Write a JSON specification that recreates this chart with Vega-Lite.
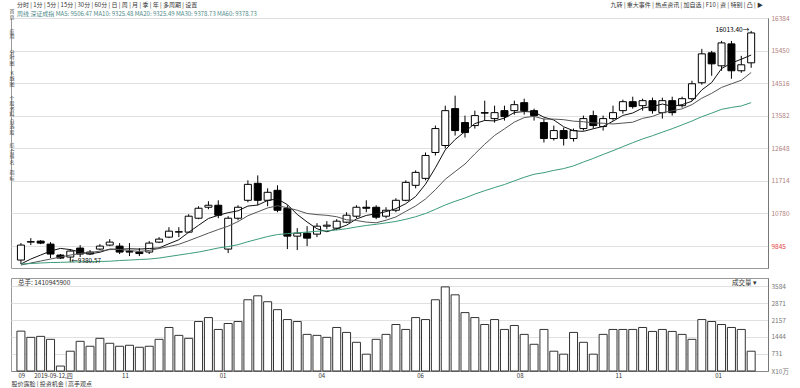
{
  "$schema": "https://vega.github.io/schema/vega-lite/v6.json",
  "padding": {"left": 8, "top": 1, "right": 0, "bottom": 0},
  "background": "white",
  "config": {"font": "Noto Sans CJK SC", "view": {"stroke": "#9a9a9a"}, "concat": {"spacing": 8}},
  "datasets": {
    "k": [
      {"i":0,"o":9445,"h":9931,"l":9331,"c":9874,"v":1691,"m5":9331,"m10":9302,"m30":9331},
      {"i":1,"o":9959,"h":10073,"l":9874,"c":9973,"v":1427,"m5":9474,"m10":9360,"m30":9345},
      {"i":2,"o":9988,"h":10016,"l":9902,"c":9931,"v":1469,"m5":9588,"m10":9417,"m30":9360},
      {"i":3,"o":9902,"h":9959,"l":9502,"c":9617,"v":1343,"m5":9702,"m10":9474,"m30":9374},
      {"i":4,"o":9588,"h":9617,"l":9474,"c":9502,"v":210,"m5":9779,"m10":9531,"m30":9379},
      {"i":5,"o":9531,"h":9759,"l":9380.57,"c":9702,"v":839,"m5":9745,"m10":9588,"m30":9388},
      {"i":6,"o":9788,"h":9874,"l":9531,"c":9617,"v":1259,"m5":9674,"m10":9631,"m30":9394},
      {"i":7,"o":9617,"h":9731,"l":9588,"c":9674,"v":1049,"m5":9622,"m10":9659,"m30":9399},
      {"i":8,"o":9759,"h":9902,"l":9731,"c":9845,"v":1385,"m5":9668,"m10":9702,"m30":9405},
      {"i":9,"o":9874,"h":10045,"l":9845,"c":9959,"v":1175,"m5":9759,"m10":9745,"m30":9411},
      {"i":10,"o":9845,"h":9931,"l":9617,"c":9674,"v":1049,"m5":9754,"m10":9748,"m30":9431},
      {"i":11,"o":9674,"h":9931,"l":9559,"c":9688,"v":1091,"m5":9768,"m10":9719,"m30":9445},
      {"i":12,"o":9674,"h":9788,"l":9559,"c":9631,"v":1007,"m5":9759,"m10":9691,"m30":9460},
      {"i":13,"o":9674,"h":9988,"l":9617,"c":9931,"v":1049,"m5":9776,"m10":9722,"m30":9474},
      {"i":14,"o":9959,"h":10102,"l":9931,"c":10045,"v":1343,"m5":9793,"m10":9776,"m30":9502},
      {"i":15,"o":10102,"h":10387,"l":10073,"c":10273,"v":1846,"m5":9913,"m10":9833,"m30":9545},
      {"i":16,"o":10245,"h":10387,"l":10102,"c":10259,"v":1511,"m5":10027,"m10":9896,"m30":9588},
      {"i":17,"o":10245,"h":10759,"l":10216,"c":10702,"v":1385,"m5":10242,"m10":9999,"m30":9631},
      {"i":18,"o":10644,"h":10987,"l":10616,"c":10930,"v":2098,"m5":10441,"m10":10107,"m30":9674},
      {"i":19,"o":10959,"h":11130,"l":10901,"c":11016,"v":2266,"m5":10636,"m10":10216,"m30":9731},
      {"i":20,"o":11016,"h":11158,"l":10644,"c":10730,"v":1762,"m5":10727,"m10":10319,"m30":9791},
      {"i":21,"o":9759,"h":10702,"l":9645,"c":10644,"v":2014,"m5":10804,"m10":10416,"m30":9831},
      {"i":22,"o":10644,"h":11016,"l":10587,"c":10959,"v":2098,"m5":10856,"m10":10547,"m30":9885},
      {"i":23,"o":11158,"h":11730,"l":11101,"c":11615,"v":3021,"m5":10993,"m10":10716,"m30":9970},
      {"i":24,"o":11644,"h":11872,"l":11016,"c":11158,"v":3189,"m5":11021,"m10":10827,"m30":10045},
      {"i":25,"o":11158,"h":11501,"l":10987,"c":11387,"v":2937,"m5":11153,"m10":10938,"m30":10119},
      {"i":26,"o":11444,"h":11587,"l":10816,"c":10873,"v":2602,"m5":11198,"m10":11001,"m30":10176},
      {"i":27,"o":10930,"h":11016,"l":9759,"c":10130,"v":2182,"m5":11033,"m10":10944,"m30":10202},
      {"i":28,"o":10130,"h":10359,"l":9731,"c":10216,"v":2098,"m5":10753,"m10":10873,"m30":10227},
      {"i":29,"o":10216,"h":10416,"l":9845,"c":10073,"v":1553,"m5":10536,"m10":10779,"m30":10247},
      {"i":30,"o":10188,"h":10502,"l":10102,"c":10416,"v":1511,"m5":10342,"m10":10747,"m30":10270},
      {"i":31,"o":10416,"h":10559,"l":10330,"c":10445,"v":1427,"m5":10256,"m10":10727,"m30":10287},
      {"i":32,"o":10359,"h":10616,"l":10302,"c":10559,"v":1846,"m5":10342,"m10":10687,"m30":10307},
      {"i":33,"o":10530,"h":10816,"l":10502,"c":10730,"v":1636,"m5":10445,"m10":10599,"m30":10344},
      {"i":34,"o":10702,"h":11016,"l":10644,"c":10959,"v":1217,"m5":10622,"m10":10579,"m30":10393},
      {"i":35,"o":10959,"h":11158,"l":10816,"c":10930,"v":713,"m5":10724,"m10":10533,"m30":10436},
      {"i":36,"o":10959,"h":11016,"l":10616,"c":10673,"v":1343,"m5":10770,"m10":10513,"m30":10470},
      {"i":37,"o":10702,"h":10959,"l":10644,"c":10873,"v":1553,"m5":10833,"m10":10587,"m30":10510},
      {"i":38,"o":10873,"h":11216,"l":10816,"c":11158,"v":1972,"m5":10918,"m10":10681,"m30":10553},
      {"i":39,"o":11158,"h":11730,"l":11130,"c":11672,"v":1762,"m5":11061,"m10":10841,"m30":10613},
      {"i":40,"o":11587,"h":12015,"l":11501,"c":11958,"v":2266,"m5":11267,"m10":10996,"m30":10687},
      {"i":41,"o":11787,"h":12529,"l":11730,"c":12443,"v":2182,"m5":11621,"m10":11196,"m30":10779},
      {"i":42,"o":12529,"h":13300,"l":12443,"c":13214,"v":3021,"m5":12089,"m10":11461,"m30":10898},
      {"i":43,"o":12729,"h":13871,"l":12643,"c":13728,"v":3567,"m5":12603,"m10":11761,"m30":11024},
      {"i":44,"o":13786,"h":14157,"l":13015,"c":13157,"v":3231,"m5":12900,"m10":11981,"m30":11130},
      {"i":45,"o":13386,"h":13586,"l":12957,"c":13100,"v":2476,"m5":13128,"m10":12198,"m30":11224},
      {"i":46,"o":13300,"h":13728,"l":13214,"c":13586,"v":2266,"m5":13357,"m10":12489,"m30":11336},
      {"i":47,"o":13671,"h":14014,"l":13443,"c":13657,"v":1972,"m5":13446,"m10":12766,"m30":11433},
      {"i":48,"o":13500,"h":13871,"l":13386,"c":13671,"v":2182,"m5":13434,"m10":13017,"m30":11524},
      {"i":49,"o":13728,"h":13871,"l":13443,"c":13557,"v":1762,"m5":13514,"m10":13206,"m30":11610},
      {"i":50,"o":13728,"h":14014,"l":13614,"c":13900,"v":1930,"m5":13674,"m10":13400,"m30":11715},
      {"i":51,"o":13957,"h":14071,"l":13614,"c":13728,"v":1553,"m5":13703,"m10":13529,"m30":11818},
      {"i":52,"o":13728,"h":13786,"l":13443,"c":13586,"v":1133,"m5":13688,"m10":13566,"m30":11904},
      {"i":53,"o":13386,"h":13500,"l":12815,"c":12929,"v":1762,"m5":13540,"m10":13486,"m30":11950},
      {"i":54,"o":12929,"h":13300,"l":12872,"c":13157,"v":839,"m5":13460,"m10":13486,"m30":12015},
      {"i":55,"o":13157,"h":13243,"l":12729,"c":12929,"v":713,"m5":13266,"m10":13469,"m30":12067},
      {"i":56,"o":12929,"h":13214,"l":12843,"c":13157,"v":1636,"m5":13152,"m10":13426,"m30":12144},
      {"i":57,"o":13214,"h":13586,"l":13157,"c":13500,"v":1217,"m5":13134,"m10":13411,"m30":12255},
      {"i":58,"o":13586,"h":13728,"l":13214,"c":13300,"v":713,"m5":13209,"m10":13374,"m30":12358},
      {"i":59,"o":13272,"h":13586,"l":13157,"c":13500,"v":1553,"m5":13277,"m10":13368,"m30":12472},
      {"i":60,"o":13500,"h":13871,"l":13443,"c":13671,"v":1762,"m5":13426,"m10":13346,"m30":12580},
      {"i":61,"o":13728,"h":14043,"l":13643,"c":13985,"v":1762,"m5":13591,"m10":13371,"m30":12697},
      {"i":62,"o":13985,"h":14128,"l":13786,"c":13843,"v":1762,"m5":13660,"m10":13397,"m30":12809},
      {"i":63,"o":13871,"h":14071,"l":13728,"c":14014,"v":1846,"m5":13803,"m10":13506,"m30":12917},
      {"i":64,"o":14014,"h":14100,"l":13643,"c":13728,"v":1678,"m5":13848,"m10":13563,"m30":13009},
      {"i":65,"o":13671,"h":14100,"l":13500,"c":14014,"v":1762,"m5":13917,"m10":13671,"m30":13111},
      {"i":66,"o":14014,"h":14128,"l":13586,"c":13671,"v":1678,"m5":13854,"m10":13723,"m30":13211},
      {"i":67,"o":13871,"h":14128,"l":13814,"c":14071,"v":1553,"m5":13900,"m10":13780,"m30":13320},
      {"i":68,"o":14071,"h":14585,"l":14014,"c":14499,"v":1343,"m5":13997,"m10":13900,"m30":13431},
      {"i":69,"o":14528,"h":15499,"l":14471,"c":15356,"v":2182,"m5":14322,"m10":14085,"m30":13554},
      {"i":70,"o":15385,"h":15442,"l":14728,"c":15070,"v":2098,"m5":14534,"m10":14225,"m30":13657},
      {"i":71,"o":15013,"h":15727,"l":14871,"c":15670,"v":1972,"m5":14933,"m10":14394,"m30":13765},
      {"i":72,"o":15642,"h":15727,"l":14642,"c":14871,"v":1846,"m5":15093,"m10":14497,"m30":13820},
      {"i":73,"o":14871,"h":15299,"l":14813,"c":15042,"v":1762,"m5":15202,"m10":14599,"m30":13863},
      {"i":74,"o":15099,"h":16013.4,"l":14956,"c":15956,"v":839,"m5":15322,"m10":14822,"m30":13957}
    ],
    "hi": [{"i":74,"p":16013.4,"t":"16013.40→"}],
    "lo": [{"i":5,"p":9380.57,"t":"←9380.57"}],
    "tbl": [{"i":-0.4,"p":16384,"t":"分时 | 1分 | 5分 | 15分 | 30分 | 60分 | 日 | 周 | 月 | 季 | 年 | 多周期 | 设置"}],
    "tbr": [{"i":75.2,"p":16384,"t":"九转 | 重大事件 | 热点资讯 | 加自选 | F10 | 资 | 特别 | 凸 | ▶"}],
    "hd": [{"i":-0.4,"p":16384,"t":"周线  深证成指  MA5: 9506.47  MA10: 9325.48  MA20: 9325.49  MA30: 9378.73  MA60: 9378.73"}],
    "tabs": [
      {"i":-0.5,"p":16584,"t":"首\n页"},
      {"i":-0.5,"p":16013,"t":"应\n用"},
      {"i":-0.5,"p":15413,"t":"分\n时\n图"},
      {"i":-0.5,"p":14813,"t":"K\n线\n图"},
      {"i":-0.5,"p":14099,"t":"个\n股\n资\n料"},
      {"i":-0.5,"p":13443,"t":"自\n选\n股"},
      {"i":-0.5,"p":12729,"t":"综\n合\n排\n名"},
      {"i":-0.5,"p":11958,"t":"指\n标"}
    ],
    "vl": [{"i":-0.3,"y":3944,"t":"总手: 1410945900"}],
    "vr": [{"i":74.6,"y":3944,"t":"成交量 ▾"}]
  },
  "vconcat": [
    {
      "width": 757,
      "height": 250,
      "layer": [
        {
          "data": {"name": "k"},
          "mark": {"type": "rule", "color": "#000000", "strokeWidth": 1},
          "encoding": {
            "x": {"field": "i", "type": "quantitative", "scale": {"domain": [-0.5, 75.2], "nice": false, "zero": false}, "axis": null},
            "y": {"field": "l", "type": "quantitative",
              "scale": {"domain": [9217, 16384], "nice": false, "zero": false},
              "axis": {"orient": "right", "title": null, "values": [16384, 15450, 14516, 13582, 12648, 11714, 10780, 9845],
                "tickCount": 30, "format": "d", "grid": true, "gridColor": "#e0e0e0", "ticks": false, "labelFontSize": 6.5,
                "labelOverlap": false, "labelBound": false, "labelFlush": false,
                "labelColor": {"condition": {"test": "datum.value < 10000", "value": "#e03a3a"}, "value": "#b08080"},
                "domainColor": "#777777", "labelPadding": 3}},
            "y2": {"field": "h"}
          }
        },
        {
          "data": {"name": "k"},
          "mark": {"type": "bar", "width": 7, "stroke": "#000000", "strokeWidth": 1},
          "encoding": {
            "x": {"field": "i", "type": "quantitative"},
            "y": {"field": "o", "type": "quantitative"},
            "y2": {"field": "c"},
            "fill": {"condition": {"test": "datum.c >= datum.o", "value": "#ffffff"}, "value": "#000000"}
          }
        },
        {
          "data": {"name": "k"},
          "mark": {"type": "line", "color": "#111111", "strokeWidth": 1},
          "encoding": {"x": {"field": "i", "type": "quantitative"}, "y": {"field": "m5", "type": "quantitative"}}
        },
        {
          "data": {"name": "k"},
          "mark": {"type": "line", "color": "#555555", "strokeWidth": 1},
          "encoding": {"x": {"field": "i", "type": "quantitative"}, "y": {"field": "m10", "type": "quantitative"}}
        },
        {
          "data": {"name": "k"},
          "mark": {"type": "line", "color": "#3c9c78", "strokeWidth": 1},
          "encoding": {"x": {"field": "i", "type": "quantitative"}, "y": {"field": "m30", "type": "quantitative"}}
        },
        {
          "data": {"name": "hi"},
          "mark": {"type": "text", "align": "right", "dx": -2, "dy": -1, "fontSize": 6.5, "color": "#000000"},
          "encoding": {"x": {"field": "i", "type": "quantitative"}, "y": {"field": "p", "type": "quantitative"}, "text": {"field": "t"}}
        },
        {
          "data": {"name": "lo"},
          "mark": {"type": "text", "align": "left", "dx": 1, "dy": -1, "fontSize": 6.5, "color": "#000000"},
          "encoding": {"x": {"field": "i", "type": "quantitative"}, "y": {"field": "p", "type": "quantitative"}, "text": {"field": "t"}}
        },
        {
          "data": {"name": "tbl"},
          "mark": {"type": "text", "align": "left", "baseline": "bottom", "dy": -10, "fontSize": 6, "color": "#333333"},
          "encoding": {"x": {"field": "i", "type": "quantitative"}, "y": {"field": "p", "type": "quantitative"}, "text": {"field": "t"}}
        },
        {
          "data": {"name": "tbr"},
          "mark": {"type": "text", "align": "right", "baseline": "bottom", "dy": -10, "fontSize": 6, "color": "#333333"},
          "encoding": {"x": {"field": "i", "type": "quantitative"}, "y": {"field": "p", "type": "quantitative"}, "text": {"field": "t"}}
        },
        {
          "data": {"name": "hd"},
          "mark": {"type": "text", "align": "left", "baseline": "bottom", "dy": -1, "fontSize": 6, "color": "#4f8a8a"},
          "encoding": {"x": {"field": "i", "type": "quantitative"}, "y": {"field": "p", "type": "quantitative"}, "text": {"field": "t"}}
        },
        {
          "data": {"name": "tabs"},
          "mark": {"type": "text", "align": "center", "baseline": "middle", "dx": -4, "fontSize": 5, "lineHeight": 5.5, "lineBreak": "\n", "color": "#444444"},
          "encoding": {"x": {"field": "i", "type": "quantitative"}, "y": {"field": "p", "type": "quantitative"}, "text": {"field": "t"}}
        }
      ]
    },
    {
      "width": 757,
      "height": 93,
      "layer": [
        {
          "data": {"name": "k"},
          "mark": {"type": "bar", "width": 8, "fill": "#ffffff", "stroke": "#333333", "strokeWidth": 1},
          "encoding": {
            "x": {"field": "i", "type": "quantitative", "scale": {"domain": [-0.5, 75.2], "nice": false, "zero": false},
              "axis": {"orient": "bottom", "values": [-0.3, 1.3, 10.2, 20.1, 30.1, 40.1, 50.2, 60.2, 70.3], "tickCount": 40,
                "labelExpr": "datum.value < 0 ? '09' : datum.value < 2 ? '2019-09-12,四' : datum.value < 15 ? '11' : datum.value < 25 ? '01' : datum.value < 35 ? '04' : datum.value < 45 ? '06' : datum.value < 55 ? '08' : datum.value < 65 ? '11' : '01'",
                "labelAlign": "left", "labelFontSize": 6, "labelColor": "#333333", "ticks": false, "grid": false,
                "domainColor": "#888888", "labelPadding": 1, "labelOverlap": false, "labelBound": false, "labelFlush": false,
                "title": "股价露脸 | 投资机会 | 高手观点", "titleAnchor": "start", "titleAlign": "left", "titleFontSize": 6,
                "titleFontWeight": "normal", "titlePadding": 2, "titleColor": "#333333"}},
            "y": {"field": "v", "type": "quantitative", "scale": {"domain": [0, 3944], "nice": false},
              "axis": {"orient": "right", "title": null, "values": [0, 731, 1444, 2157, 2871, 3584], "format": "d", "tickCount": 30,
                "labelExpr": "datum.value == 0 ? 'X10万' : datum.label",
                "labelOverlap": false, "labelBound": false, "labelFlush": false,
                "grid": true, "gridColor": "#e0e0e0", "ticks": false, "labelFontSize": 6.5, "labelColor": "#777777",
                "domainColor": "#777777", "labelPadding": 3}}
          }
        },
        {
          "data": {"name": "vl"},
          "mark": {"type": "text", "align": "left", "baseline": "top", "dy": 2, "fontSize": 6.5, "color": "#333333"},
          "encoding": {"x": {"field": "i", "type": "quantitative"}, "y": {"field": "y", "type": "quantitative"}, "text": {"field": "t"}}
        },
        {
          "data": {"name": "vr"},
          "mark": {"type": "text", "align": "right", "baseline": "top", "dy": 2, "fontSize": 6.5, "color": "#333333"},
          "encoding": {"x": {"field": "i", "type": "quantitative"}, "y": {"field": "y", "type": "quantitative"}, "text": {"field": "t"}}
        }
      ]
    }
  ]
}
